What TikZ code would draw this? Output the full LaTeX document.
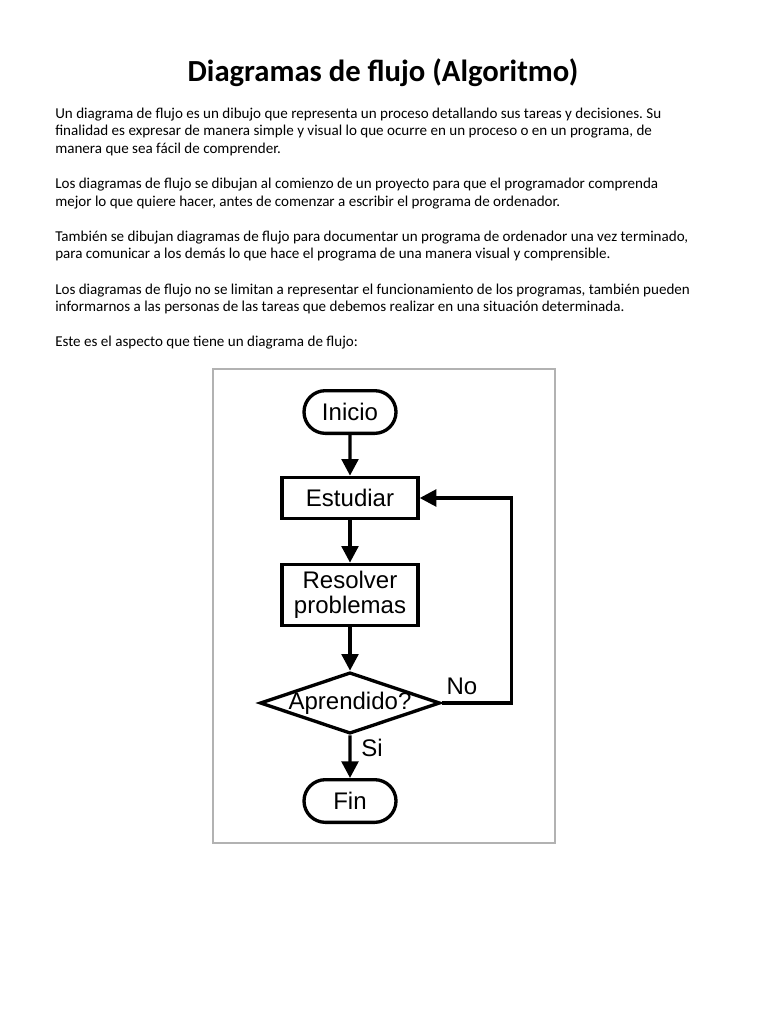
\documentclass[tikz,border=0pt]{standalone}
\usepackage{fontspec}
\setmainfont{Carlito}
\newfontfamily\flowfont{Liberation Sans}
\usetikzlibrary{shapes.geometric,shapes.misc,arrows.meta,positioning}
\frenchspacing

\begin{document}
\begin{tikzpicture}[x=0.75pt, y=-0.75pt, >={Triangle[length=12.5pt,width=12.5pt]},
    flowline/.style={line width=2.6pt},
    flowtext/.style={font=\flowfont\fontsize{18}{19}\selectfont, align=center},
    terminal/.style={rounded rectangle, draw, line width=2.5pt, inner sep=0pt,
        minimum width=69pt, minimum height=32pt, flowtext},
    process/.style={rectangle, draw, line width=2.5pt, inner sep=0pt,
        minimum width=102pt, flowtext},
    decision/.style={diamond, draw, line width=2.5pt, inner sep=0pt,
        minimum width=135pt, minimum height=46pt, flowtext}]
    \useasboundingbox (0,0) rectangle (768,1024);

    % title and text
    \node[anchor=base, font=\bfseries\fontsize{23}{27}\selectfont] (titulo) at (383,82) {Diagramas de flujo (Algoritmo)};
    \foreach \k/\txt in {
        0/{Un diagrama de flujo es un dibujo que representa un proceso detallando sus tareas y decisiones. Su},
        1/{finalidad es expresar de manera simple y visual lo que ocurre en un proceso o en un programa, de},
        2/{manera que sea fácil de comprender.},
        4/{Los diagramas de flujo se dibujan al comienzo de un proyecto para que el programador comprenda},
        5/{mejor lo que quiere hacer, antes de comenzar a escribir el programa de ordenador.},
        7/{También se dibujan diagramas de flujo para documentar un programa de ordenador una vez terminado,},
        8/{para comunicar a los demás lo que hace el programa de una manera visual y comprensible.},
        10/{Los diagramas de flujo no se limitan a representar el funcionamiento de los programas, también pueden},
        11/{informarnos a las personas de las tareas que debemos realizar en una situación determinada.},
        13/{Este es el aspecto que tiene un diagrama de flujo:}} {
        \node[anchor=base west, inner sep=0pt, font=\fontsize{11.3}{13}\selectfont] (linea\k) at (55,{118+17.6*\k}) {\txt};
    }

    % flowchart
    \draw[black!30, line width=1.2pt] (213,369) rectangle (555,843);
    \node[terminal] (inicio) at (350,412) {Inicio};
    \node[process, minimum height=31pt] (estudiar) at (350,498) {Estudiar};
    \node[process, minimum height=46pt] (resolver) at (350,595) {Resolver\\problemas};
    \node[decision] (aprendido) at (350,703) {\makebox[0pt]{Aprendido?}};
    \node[terminal] (fin) at (350,801) {Fin};
    \node[flowtext] (no) at (462,686) {No};
    \node[flowtext] (si) at (372,748) {Si};

    \draw[flowline,->] (inicio) -- (estudiar);
    \draw[flowline,->] (estudiar) -- (resolver);
    \draw[flowline,->] (resolver) -- (aprendido);
    \draw[flowline,->] (aprendido) -- (fin);
    \draw[flowline,->] (aprendido.east) -- ++(70,0) |- (estudiar.east);
\end{tikzpicture}
\end{document}
